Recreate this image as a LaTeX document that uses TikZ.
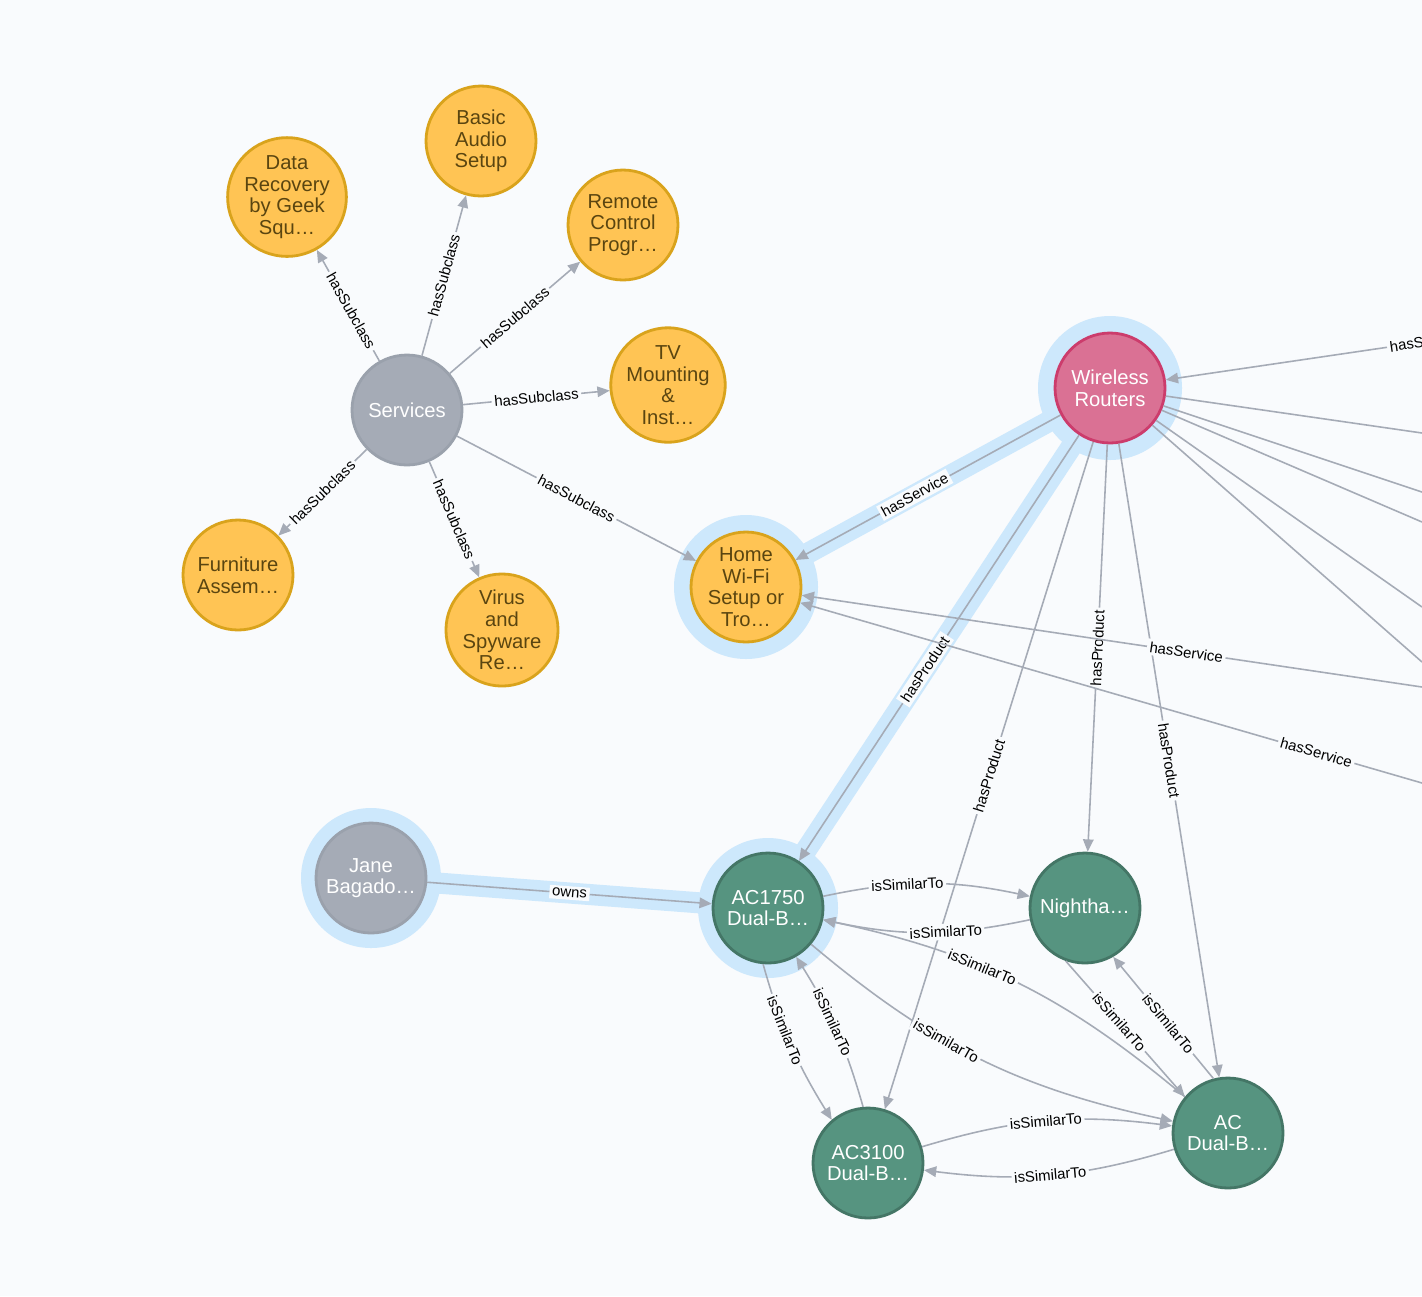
\documentclass[tikz,border=0pt]{standalone}
\usepackage{fontspec}
\setmainfont{Liberation Sans}
\usetikzlibrary{arrows.meta}
\definecolor{bg}{HTML}{F9FBFD}
\definecolor{edge}{HTML}{A5ABB6}
\definecolor{halo}{HTML}{CDE8FC}
\definecolor{grayfill}{HTML}{A5ABB6}
\definecolor{grayline}{HTML}{9AA1AC}
\definecolor{orfill}{HTML}{FFC454}
\definecolor{orline}{HTML}{D9A31C}
\definecolor{ortext}{HTML}{5A4510}
\definecolor{pkfill}{HTML}{DA7194}
\definecolor{pkline}{HTML}{CC3C6C}
\definecolor{gnfill}{HTML}{569480}
\definecolor{gnline}{HTML}{447666}
\tikzset{
  base/.style={circle,minimum size=2.2cm,inner sep=0pt,line width=1.6pt,align=center,font=\fontsize{11.5}{12.3}\selectfont},
  gray/.style={base,fill=grayfill,draw=grayline,text=white},
  orange/.style={base,fill=orfill,draw=orline,text=ortext},
  pink/.style={base,fill=pkfill,draw=pkline,text=white},
  green/.style={base,fill=gnfill,draw=gnline,text=white},
  rel/.style={draw=edge,line width=0.9pt,-{Triangle[length=7pt,width=6pt]}},
  lab/.style={sloped,fill=bg,inner sep=1.5pt,font=\fontsize{8.5}{9.5}\selectfont,text=black},
  haloline/.style={draw=halo,line width=12pt},
}
\begin{document}
\begin{tikzpicture}[x=0.02cm,y=-0.02cm]
\useasboundingbox[fill=bg] (0,0) rectangle (1422,1296);
% halos
\fill[halo] (1110,388) circle (72);
\fill[halo] (746,587) circle (72);
\fill[halo] (371,878) circle (70);
\fill[halo] (768,908) circle (70);
\draw[haloline] (1110,388) -- (746,587);
\draw[haloline] (1110,388) -- (768,908);
\draw[haloline] (371,878) -- (768,908);
% nodes
\node[gray] (srv) at (407,410) {Services};
\node[orange] (dr) at (287,197) {Data\\Recovery\\by Geek\\Squ\dots};
\node[orange] (ba) at (481,141) {Basic\\Audio\\Setup};
\node[orange] (rc) at (623,225) {Remote\\Control\\Progr\dots};
\node[orange] (tv) at (668,385) {TV\\Mounting\\\&\\Inst\dots};
\node[orange] (fa) at (238,575) {Furniture\\Assem\dots};
\node[orange] (vs) at (502,630) {Virus\\and\\Spyware\\Re\dots};
\node[orange] (hw) at (746,587) {Home\\Wi-Fi\\Setup or\\Tro\dots};
\node[pink] (wr) at (1110,388) {Wireless\\Routers};
\node[gray] (jane) at (371,878) {Jane\\Bagado\dots};
\node[green] (a1) at (768,908) {AC1750\\Dual-B\dots};
\node[green] (nh) at (1085,908) {Nightha\dots};
\node[green] (ac) at (1228,1133) {AC\\Dual-B\dots};
\node[green] (a3) at (868,1163) {AC3100\\Dual-B\dots};
% off-canvas ends
\coordinate (r0) at (1600,316);
\coordinate (r1) at (1422,433);
\coordinate (r2) at (1422,492);
\coordinate (r3) at (1422,522);
\coordinate (r4) at (1422,607);
\coordinate (r5) at (1422,662);
\coordinate (s1) at (1422,687);
\coordinate (s2) at (1422,783);
% Services edges
\draw[rel] (srv) -- node[lab,pos=0.45]{hasSubclass} (dr);
\draw[rel] (srv) -- node[lab,pos=0.5]{hasSubclass} (ba);
\draw[rel] (srv) -- node[lab,pos=0.5]{hasSubclass} (rc);
\draw[rel] (srv) -- node[lab,pos=0.5]{hasSubclass} (tv);
\draw[rel] (srv) -- node[lab,pos=0.5]{hasSubclass} (fa);
\draw[rel] (srv) -- node[lab,pos=0.5]{hasSubclass} (vs);
\draw[rel] (srv) -- node[lab,pos=0.5]{hasSubclass} (hw);
% Wireless Routers edges
\draw[rel] (wr) -- node[lab,pos=0.55]{hasService} (hw);
\draw[rel] (wr) -- node[lab,pos=0.55]{hasProduct} (a1);
\draw[rel] (wr) -- node[lab,pos=0.5]{hasProduct} (a3);
\draw[rel] (wr) -- node[lab,pos=0.5]{hasProduct} (nh);
\draw[rel] (wr) -- node[lab,pos=0.5]{hasProduct} (ac);
\draw[rel] (r0) -- node[lab,pos=0.4]{hasService} (wr);
\draw[draw=edge,line width=0.9pt] (wr) -- (r1);
\draw[draw=edge,line width=0.9pt] (wr) -- (r2);
\draw[draw=edge,line width=0.9pt] (wr) -- (r3);
\draw[draw=edge,line width=0.9pt] (wr) -- (r4);
\draw[draw=edge,line width=0.9pt] (wr) -- (r5);
\draw[rel] (s1) -- node[lab,pos=0.38]{hasService} (hw);
\draw[rel] (s2) -- node[lab,pos=0.17]{hasService} (hw);
% Jane
\draw[rel] (jane) -- node[lab,pos=0.5]{owns} (a1);
% isSimilarTo
\draw[rel] (a1) to[bend left=12] node[lab,pos=0.4]{isSimilarTo} (nh);
\draw[rel] (nh) to[bend left=12] node[lab,pos=0.4]{isSimilarTo} (a1);
\draw[rel] (a1.265) to[bend right=8] node[lab,pos=0.4]{isSimilarTo} (a3.130);
\draw[rel] (a3.95) to[bend right=8] node[lab,pos=0.55]{isSimilarTo} (a1.300);
\draw[rel] (a1) to[bend right=14] node[lab,pos=0.4]{isSimilarTo} (ac);
\draw[rel] (ac) to[bend right=14] node[lab,pos=0.6]{isSimilarTo} (a1);
\draw[rel] (nh.250) -- node[lab,pos=0.45]{isSimilarTo} (ac.140);
\draw[rel] (ac.105) -- node[lab,pos=0.45]{isSimilarTo} (nh.300);
\draw[rel] (a3) to[bend left=12] node[lab,pos=0.5]{isSimilarTo} (ac);
\draw[rel] (ac) to[bend left=12] node[lab,pos=0.5]{isSimilarTo} (a3);
\end{tikzpicture}
\end{document}
